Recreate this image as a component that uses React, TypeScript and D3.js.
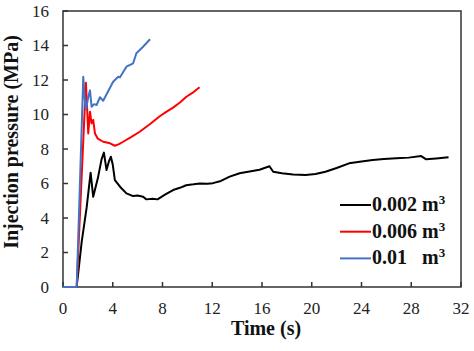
import React from "react";
import * as d3 from "d3";

// 0.002 m3 series (time s, pressure MPa)
const blackT = [0, 1.1, 1.5, 1.9, 2.22, 2.43, 2.8, 3.1, 3.29, 3.5, 3.7, 3.85, 4.0, 4.17, 4.6, 5.1, 5.64, 6.0, 6.44, 6.7, 7.2, 7.6, 8.2, 8.85, 9.4, 9.9, 10.5, 11.0, 11.6, 12.05, 12.7, 13.4, 14.2, 15.0, 15.8, 16.6, 16.9, 17.6, 18.5, 19.5, 20.3, 21.1, 22.0, 23.0, 24.0, 24.9, 25.8, 26.8, 27.8, 28.8, 29.2, 30.0, 31.0]
const blackP = [0, 0, 2.6, 4.6, 6.63, 5.23, 6.3, 7.4, 7.79, 6.78, 7.3, 7.55, 7.1, 6.2, 5.8, 5.43, 5.27, 5.3, 5.23, 5.08, 5.12, 5.08, 5.35, 5.62, 5.75, 5.9, 5.95, 6.0, 5.98, 6.02, 6.15, 6.4, 6.59, 6.7, 6.8, 7.0, 6.68, 6.6, 6.52, 6.49, 6.55, 6.68, 6.9, 7.17, 7.28, 7.36, 7.42, 7.46, 7.5, 7.59, 7.4, 7.45, 7.52]

// 0.006 m3 series
const redT = [0, 1.1, 1.84, 1.95, 2.03, 2.17, 2.3, 2.43, 2.57, 2.8, 3.23, 3.7, 4.17, 4.5, 4.84, 5.5, 6.17, 7.0, 7.78, 8.3, 8.85, 9.4, 9.92, 10.5, 10.98]
const redP = [0, 0, 11.84, 10.2, 8.9, 10.16, 9.49, 9.68, 8.9, 8.6, 8.42, 8.35, 8.19, 8.28, 8.42, 8.7, 9.0, 9.45, 9.9, 10.15, 10.4, 10.7, 11.03, 11.3, 11.58]

// 0.01 m3 series
const blueT = [0, 1.1, 1.63, 1.7, 1.76, 1.84, 2.0, 2.17, 2.3, 2.5, 2.7, 2.97, 3.23, 3.6, 4.03, 4.17, 4.44, 4.57, 5.1, 5.64, 5.9, 6.4, 7.0]
const blueP = [0, 0, 12.19, 11.4, 10.8, 10.26, 10.9, 11.4, 10.45, 10.6, 10.55, 11.0, 10.8, 11.3, 11.9, 12.0, 12.19, 12.15, 12.77, 12.97, 13.55, 13.9, 14.36]

const xTicks = [0, 4, 8, 12, 16, 20, 24, 28, 32]
const yTicks = [0, 2, 4, 6, 8, 10, 12, 14, 16]

const seriesNames = ["0.002 m", "0.006 m", "0.01\u00a0\u00a0\u00a0m"]
const seriesColors = ["#000000", "#ff0000", "#4472c4"]

const App = () => {
    const left = 63, right = 461, top = 11, bottom = 287
    const x = d3.scaleLinear().domain([0, 32]).range([left, right])
    const y = d3.scaleLinear().domain([0, 16]).range([bottom, top])

    const line = d3.line<[number, number]>()
        .x(d => x(d[0]))
        .y(d => y(d[1]))

    const series = [
        {t: blackT, p: blackP},
        {t: redT, p: redP},
        {t: blueT, p: blueP},
    ]

    const font = "'Liberation Serif', 'DejaVu Serif', serif"

    return (
        <svg width={474} height={351} style={{position: "absolute", left: 0, top: 0, background: "#fff"}}>
            <rect x={left} y={top} width={right - left} height={bottom - top} fill="none" stroke="#333" strokeWidth={1.5}/>
            {xTicks.map(t => (
                <g key={"x" + t}>
                    <line x1={x(t)} x2={x(t)} y1={bottom} y2={bottom - 5} stroke="#333" strokeWidth={1.5}/>
                    <text x={x(t)} y={314} textAnchor="middle" fontFamily={font} fontSize={17} fill="#222">{t}</text>
                </g>
            ))}
            {yTicks.map(t => (
                <g key={"y" + t}>
                    <line x1={left} x2={left + 5} y1={y(t)} y2={y(t)} stroke="#333" strokeWidth={1.5}/>
                    <text x={49} y={y(t) + 5.5} textAnchor="end" fontFamily={font} fontSize={17} fill="#222">{t}</text>
                </g>
            ))}
            {series.map((s, i) => (
                <path key={i}
                      d={line(s.t.map((t, k) => [t, s.p[k]] as [number, number])) || ""}
                      fill="none" stroke={seriesColors[i]} strokeWidth={2} strokeLinejoin="round"/>
            ))}
            <text x={266} y={335} textAnchor="middle" fontFamily={font} fontSize={20} fontWeight="bold" fill="#111">Time (s)</text>
            <text transform="translate(18,142) rotate(-90)" textAnchor="middle" fontFamily={font} fontSize={20} fontWeight="bold" fill="#111">Injection pressure (MPa)</text>
            {seriesNames.map((n, i) => (
                <g key={n} transform={`translate(340,${205 + i * 26.7})`}>
                    <line x1={0} x2={31} y1={0} y2={0} stroke={seriesColors[i]} strokeWidth={2}/>
                    <text x={32} y={6} fontFamily={font} fontSize={20} fontWeight="bold" fill="#111">
                        {n}<tspan dy={-7} fontSize={13}>3</tspan>
                    </text>
                </g>
            ))}
        </svg>
    )
}

export default App
